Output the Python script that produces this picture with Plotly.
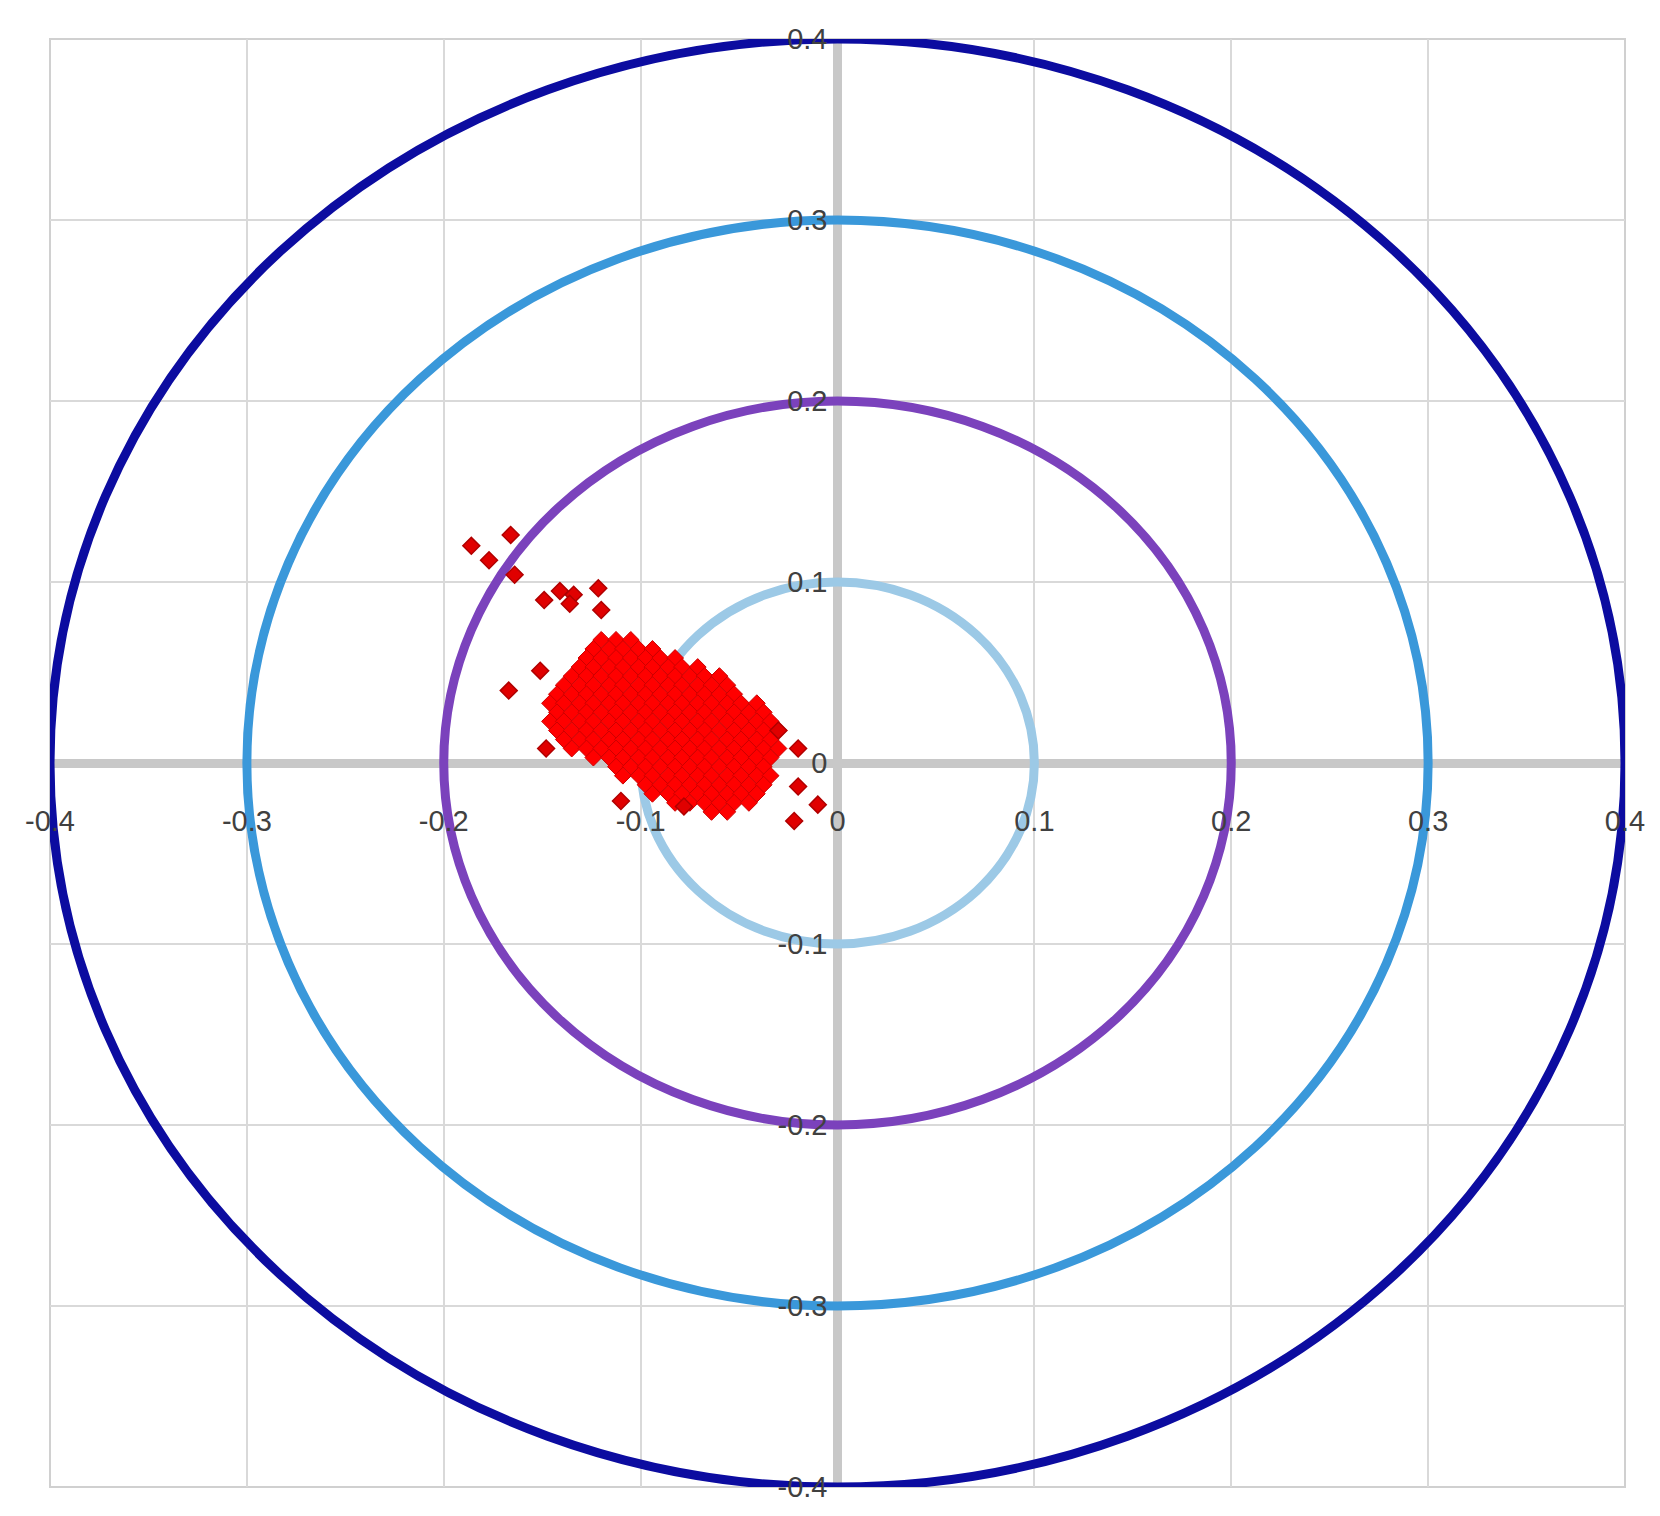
import plotly.graph_objects as go

# Axis ticks
tick_vals = [-0.4, -0.3, -0.2, -0.1, 0.0, 0.1, 0.2, 0.3, 0.4]
tick_text = ["-0.4", "-0.3", "-0.2", "-0.1", "0", "0.1", "0.2", "0.3", "0.4"]

# Reference rings
ring_radius = [0.4, 0.3, 0.2, 0.1]
ring_color = ["#0c0ca0", "#3a98da", "#7b42bc", "#9cc9e6"]

# Dense cluster (y of each row, x values in that row)
cluster_row_y = [0.068, 0.063, 0.058, 0.053, 0.048, 0.043, 0.038, 0.033, 0.028, 0.023,
                 0.018, 0.013, 0.008, 0.003, -0.002, -0.007, -0.012, -0.017, -0.022, -0.027]
cluster_row_x = [
    [-0.120, -0.1125, -0.105],
    [-0.124, -0.116, -0.109, -0.101, -0.094],
    [-0.1275, -0.120, -0.1125, -0.105, -0.0975, -0.090, -0.0825],
    [-0.131, -0.124, -0.116, -0.109, -0.101, -0.094, -0.086, -0.079, -0.071],
    [-0.135, -0.1275, -0.120, -0.1125, -0.105, -0.0975, -0.090, -0.0825, -0.075, -0.0675, -0.060],
    [-0.139, -0.131, -0.124, -0.116, -0.109, -0.101, -0.094, -0.086, -0.079, -0.071, -0.064, -0.056],
    [-0.1425, -0.135, -0.1275, -0.120, -0.1125, -0.105, -0.0975, -0.090, -0.0825, -0.075, -0.0675, -0.060, -0.0525],
    [-0.146, -0.139, -0.131, -0.124, -0.116, -0.109, -0.101, -0.094, -0.086, -0.079, -0.071, -0.064, -0.056, -0.049, -0.041],
    [-0.1425, -0.135, -0.1275, -0.120, -0.1125, -0.105, -0.0975, -0.090, -0.0825, -0.075, -0.0675, -0.060, -0.0525, -0.045, -0.0375],
    [-0.146, -0.139, -0.131, -0.124, -0.116, -0.109, -0.101, -0.094, -0.086, -0.079, -0.071, -0.064, -0.056, -0.049, -0.041, -0.034],
    [-0.1425, -0.135, -0.1275, -0.120, -0.1125, -0.105, -0.0975, -0.090, -0.0825, -0.075, -0.0675, -0.060, -0.0525, -0.045, -0.0375, -0.030],
    [-0.139, -0.131, -0.124, -0.116, -0.109, -0.101, -0.094, -0.086, -0.079, -0.071, -0.064, -0.056, -0.049, -0.041, -0.034],
    [-0.135, -0.1275, -0.120, -0.1125, -0.105, -0.0975, -0.090, -0.0825, -0.075, -0.0675, -0.060, -0.0525, -0.045, -0.0375, -0.030],
    [-0.124, -0.116, -0.109, -0.101, -0.094, -0.086, -0.079, -0.071, -0.064, -0.056, -0.049, -0.041, -0.034],
    [-0.1125, -0.105, -0.0975, -0.090, -0.0825, -0.075, -0.0675, -0.060, -0.0525, -0.045, -0.0375],
    [-0.109, -0.101, -0.094, -0.086, -0.079, -0.071, -0.064, -0.056, -0.049, -0.041, -0.034],
    [-0.0975, -0.090, -0.0825, -0.075, -0.0675, -0.060, -0.0525, -0.045, -0.0375],
    [-0.094, -0.086, -0.079, -0.071, -0.064, -0.056, -0.049, -0.041],
    [-0.0825, -0.075, -0.0675, -0.060, -0.0525, -0.045],
    [-0.064, -0.056],
]

# Scattered outlying points
outlier_x = [-0.186, -0.166, -0.177, -0.164, -0.149, -0.141, -0.134, -0.136, -0.1215, -0.120,
             -0.151, -0.167, -0.148, -0.110, -0.020, -0.030, -0.020, -0.010, -0.022, -0.078]
outlier_y = [0.120, 0.126, 0.112, 0.104, 0.090, 0.095, 0.093, 0.088, 0.0965, 0.0845,
             0.051, 0.040, 0.008, -0.021, 0.008, 0.018, -0.013, -0.023, -0.032, -0.024]

cluster_x, cluster_y = [], []
for yv, xs in zip(cluster_row_y, cluster_row_x):
    cluster_x.extend(xs)
    cluster_y.extend([yv] * len(xs))

fig = go.Figure()

marker_style = dict(symbol="diamond", size=13, color="#ff0000",
                    line=dict(color="#cc0000", width=1))
fig.add_trace(go.Scatter(x=cluster_x, y=cluster_y, mode="markers",
                         marker=marker_style, hoverinfo="x+y"))
fig.add_trace(go.Scatter(x=outlier_x, y=outlier_y, mode="markers",
                         marker=dict(symbol="diamond", size=13, color="#e00000",
                                     line=dict(color="#b00000", width=1.5)),
                         hoverinfo="x+y"))

for r, c in zip(ring_radius, ring_color):
    fig.add_shape(type="circle", xref="x", yref="y", x0=-r, y0=-r, x1=r, y1=r,
                  line=dict(color=c, width=9), layer="between")

# plot frame
fig.add_shape(type="rect", xref="x domain", yref="y domain", x0=0, y0=0, x1=1, y1=1,
              line=dict(color="#d0d0d0", width=2), layer="below")

tick_font = dict(family="Liberation Sans, Arial, sans-serif", size=29, color="#404040")

fig.update_layout(
    width=1660, height=1516,
    margin=dict(l=42, r=43, t=31, b=37),
    paper_bgcolor="white", plot_bgcolor="white",
    showlegend=False,
    xaxis=dict(
        range=[-0.4, 0.4], tickvals=tick_vals, ticktext=tick_text,
        showgrid=True, gridcolor="#d9d9d9", gridwidth=2,
        zeroline=True, zerolinecolor="#c8c8c8", zerolinewidth=9,
        showline=False, ticks="", anchor="free", position=0.5,
        tickfont=tick_font, ticklabelstandoff=38,
    ),
    yaxis=dict(
        range=[-0.4, 0.4], tickvals=tick_vals, ticktext=tick_text,
        showgrid=True, gridcolor="#d9d9d9", gridwidth=2,
        zeroline=True, zerolinecolor="#c8c8c8", zerolinewidth=9,
        showline=False, ticks="", anchor="free", position=0.5,
        tickfont=tick_font, ticklabelstandoff=10,
    ),
)

fig.write_html("out.html")
